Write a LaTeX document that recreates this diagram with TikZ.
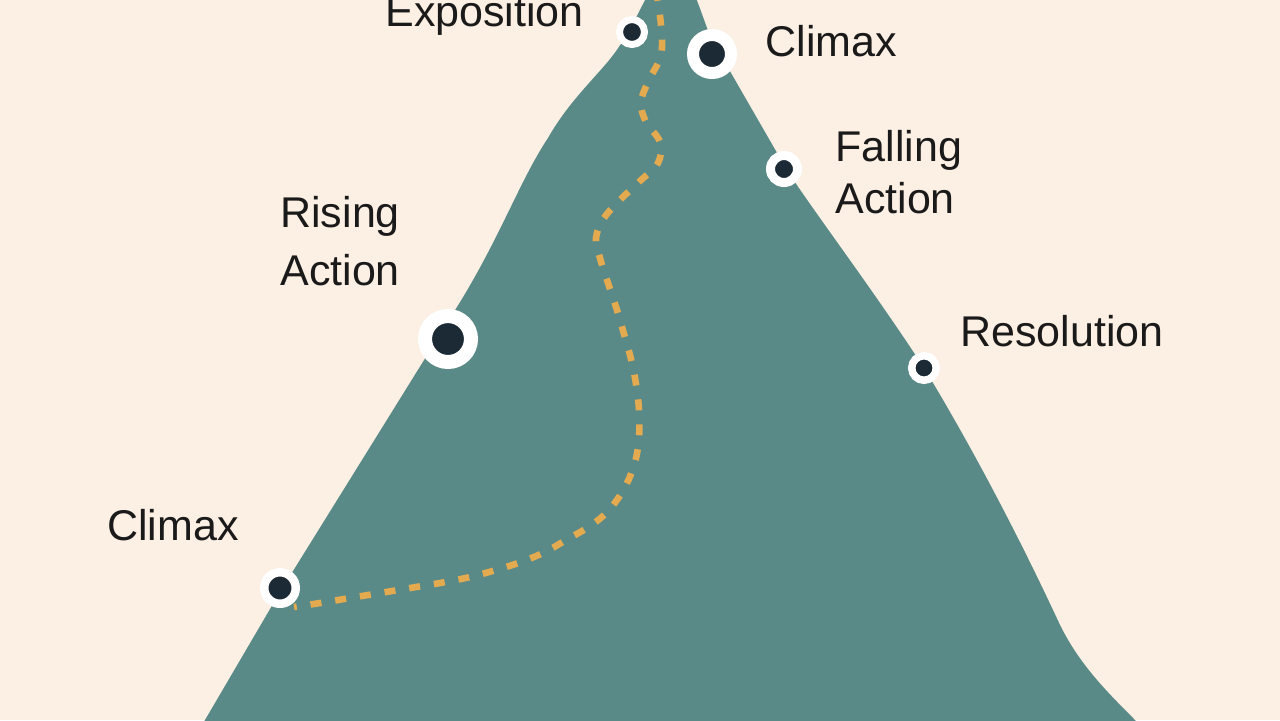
\documentclass[tikz,border=0pt]{standalone}
\usepackage{fontspec}
\setmainfont{Liberation Sans}
\definecolor{bgc}{HTML}{FCEFE3}
\definecolor{teal}{HTML}{598A87}
\definecolor{dotc}{HTML}{1C2A36}
\definecolor{trail}{HTML}{E3AA50}
\definecolor{txt}{HTML}{1A1A1A}
\tikzset{
  marker/.style 2 args={circle, inner sep=0pt, outer sep=0pt, fill=dotc, draw=white, minimum size=#1, line width=#2},
  lbl/.style={anchor=base west, inner sep=0pt, text=txt, font=\fontsize{21.5pt}{26pt}\selectfont},
  trailline/.style={draw=trail, line width=3.3pt, dash pattern=on 5.5pt off 7pt}
}
\begin{document}
\begin{tikzpicture}[x=0.5pt,y=-0.5pt]
\useasboundingbox (0,0) rectangle (1280,720);
\fill[bgc] (0,0) rectangle (1280,720);
\begin{scope}
\clip (0,0) rectangle (1280,720);
% mountain
\fill[teal] (180,760) -- (205,720) -- (280,592) -- (457,307)
  .. controls (500,238) and (520,180) .. (548,138)
  .. controls (565,108) and (585,88) .. (605,65)
  .. controls (620,48) and (630,30) .. (645,0)
  -- (668,-40) -- (690,-15)
  .. controls (700,5) and (705,25) .. (712,40)
  -- (784,165)
  .. controls (800,193) and (870,285) .. (924,368)
  .. controls (980,460) and (1030,560) .. (1060,625)
  .. controls (1080,665) and (1105,690) .. (1140,725)
  -- (1160,760) -- cycle;
% dotted trail
\coordinate (trailtop) at (656,-10);
\coordinate (trailend) at (294,607);
\draw[trailline] plot[smooth, tension=0.6] coordinates {
  (trailtop) (661,25) (661,55) (649,80) (641,102) (646,122) (660,142) (658,163)
  (640,181) (621,199) (604,218) (596,238) (600,258) (608,283) (617,310) (624,334)
  (631,359) (636,384) (639,410) (639,437) (635,462) (625,487) (609,510) (590,526)
  (566,540) (545,552) (521,562) (496,570) (470,577) (440,583) (410,588) (380,593)
  (350,598) (320,603) (trailend)
};
\end{scope}
% markers
\node[marker={12.5pt}{3.5pt}] (expo) at (632,32) {};
\node[marker={19pt}{6pt}] (climaxT) at (712,54) {};
\node[marker={13.5pt}{4.5pt}] (fall) at (784,169) {};
\node[marker={23pt}{7pt}] (rise) at (448,339) {};
\node[marker={12.25pt}{3.75pt}] (reso) at (924,368) {};
\node[marker={15.75pt}{4.25pt}] (climaxB) at (280,588) {};
% labels
\node[lbl] (expoL) at (385,26) {Exposition};
\node[lbl] (climaxTL) at (765,56) {Climax};
\node[lbl] (fallL1) at (835,161) {Falling};
\node[lbl] (fallL2) at (835,213) {Action};
\node[lbl] (riseL1) at (280,227) {Rising};
\node[lbl] (riseL2) at (280,285) {Action};
\node[lbl] (resoL) at (960,346) {Resolution};
\node[lbl] (climaxBL) at (107,540) {Climax};
\end{tikzpicture}
\end{document}
